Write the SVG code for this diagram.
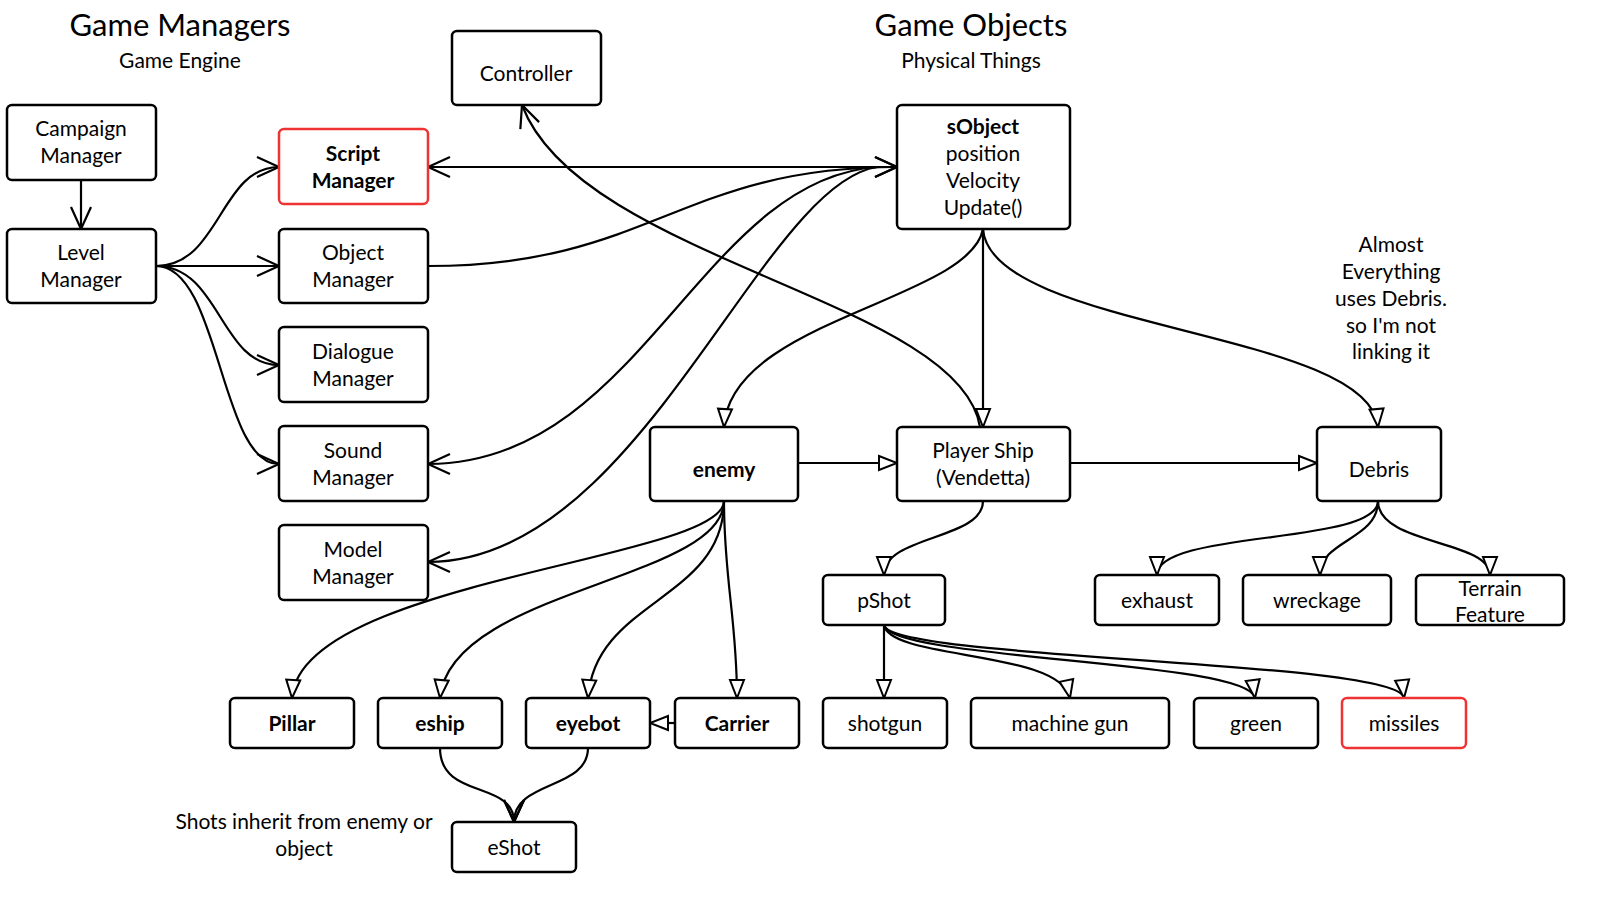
<svg xmlns="http://www.w3.org/2000/svg" width="1600" height="917" viewBox="0 0 1600 917">
<style>
.n{fill:#fff;stroke:#000;stroke-width:2.5}
.r{stroke:#e33}
text{font-family:Lato,"Liberation Sans",sans-serif;font-size:21px;text-anchor:middle;fill:#000}
.b{font-weight:bold}
.e path{fill:none;stroke:#000;stroke-width:2.2}
.o{marker-end:url(#open)}
.h{marker-end:url(#tri)}
</style>
<defs>
<marker id="open" viewBox="0 0 26 26" refX="24" refY="13" markerWidth="26" markerHeight="26" markerUnits="userSpaceOnUse" orient="auto-start-reverse"><path d="M2,3 L24,13 L2,23" fill="none" stroke="#000" stroke-width="2.2"/></marker>
<marker id="tri" viewBox="0 0 24 24" refX="22" refY="12" markerWidth="24" markerHeight="24" markerUnits="userSpaceOnUse" orient="auto"><path d="M4,5 L22,12 L4,19 Z" fill="#fff" stroke="#000" stroke-width="2"/></marker>
</defs>
<rect width="1600" height="917" fill="#fff"/>
<text x="180" y="36" style="font-size:31px">Game Managers</text>
<text x="180" y="68">Game Engine</text>
<text x="971" y="36" style="font-size:31px">Game Objects</text>
<text x="971" y="68">Physical Things</text>
<text x="1391" y="252">Almost</text>
<text x="1391" y="279">Everything</text>
<text x="1391" y="306">uses Debris.</text>
<text x="1391" y="333">so I'm not</text>
<text x="1391" y="359">linking it</text>
<text x="304" y="829">Shots inherit from enemy or</text>
<text x="304" y="856">object</text>
<g class="e">
<path class="o" d="M81,180 L81,229"/>
<path class="o" d="M156,266 C220,266 220,167 279,167"/>
<path class="o" d="M156,266 L279,266"/>
<path class="o" d="M156,266 C220,266 220,365 279,365"/>
<path class="o" d="M156,266 C220,266 220,464 279,464"/>
<path class="o" d="M897,167 L428,167" style="marker-start:url(#open)"/>
<path class="o" d="M428,266 C650,266 680,167 897,167"/>
<path class="o" d="M877,167 C700,180 640,464 428,464"/>
<path class="o" d="M877,167 C760,185 640,562 428,562"/>
<path class="o" d="M980,427 C960,300 580,260 522,105"/>
<path class="h" d="M983,229 C970,300 730,320 724,427"/>
<path class="h" d="M983,229 L983,427"/>
<path class="h" d="M983,229 C990,330 1370,330 1378,427"/>
<path class="h" d="M798,463 L897,463"/>
<path class="h" d="M1070,463 L1317,463"/>
<path class="h" d="M983,501 C983,540 884,535 884,575"/>
<path class="h" d="M1378,501 C1378,545 1157,530 1157,575"/>
<path class="h" d="M1378,501 C1378,540 1320,540 1320,575"/>
<path class="h" d="M1378,501 C1378,545 1490,540 1490,575"/>
<path class="h" d="M724,501 C724,560 300,580 292,698"/>
<path class="h" d="M724,501 C724,580 450,590 440,698"/>
<path class="h" d="M724,501 C724,600 595,600 588,698"/>
<path class="h" d="M724,501 C724,580 737,620 737,698"/>
<path class="h" d="M675,723 L650,723"/>
<path class="o" d="M440,748 C440,800 514,780 514,822"/>
<path class="o" d="M588,748 C588,790 514,780 514,822"/>
<path class="h" d="M884,625 L884,698"/>
<path class="h" d="M884,625 C890,660 1060,650 1070,698"/>
<path class="h" d="M884,625 C890,660 1250,660 1255,698"/>
<path class="h" d="M884,625 C890,660 1400,660 1404,698"/>
</g>
<g id="campaign"><rect class="n" x="7" y="105" width="149" height="75" rx="5"/><text x="81" y="136">Campaign</text><text x="81" y="163">Manager</text></g>
<g id="level"><rect class="n" x="7" y="229" width="149" height="74" rx="5"/><text x="81" y="260">Level</text><text x="81" y="287">Manager</text></g>
<g id="script"><rect class="n r" x="279" y="129" width="149" height="75" rx="5"/><text class="b" x="353" y="161">Script</text><text class="b" x="353" y="188">Manager</text></g>
<g id="object"><rect class="n" x="279" y="229" width="149" height="74" rx="5"/><text x="353" y="260">Object</text><text x="353" y="287">Manager</text></g>
<g id="dialogue"><rect class="n" x="279" y="327" width="149" height="75" rx="5"/><text x="353" y="359">Dialogue</text><text x="353" y="386">Manager</text></g>
<g id="sound"><rect class="n" x="279" y="426" width="149" height="75" rx="5"/><text x="353" y="458">Sound</text><text x="353" y="485">Manager</text></g>
<g id="model"><rect class="n" x="279" y="525" width="149" height="75" rx="5"/><text x="353" y="557">Model</text><text x="353" y="584">Manager</text></g>
<g id="controller"><rect class="n" x="452" y="31" width="149" height="74" rx="5"/><text x="526" y="81">Controller</text></g>
<g id="sobject"><rect class="n" x="897" y="105" width="173" height="124" rx="5"/><text class="b" x="983" y="134">sObject</text><text x="983" y="161">position</text><text x="983" y="188">Velocity</text><text x="983" y="215">Update()</text></g>
<g id="enemy"><rect class="n" x="650" y="427" width="148" height="74" rx="5"/><text class="b" x="724" y="477">enemy</text></g>
<g id="player"><rect class="n" x="897" y="427" width="173" height="74" rx="5"/><text x="983" y="458">Player Ship</text><text x="983" y="485">(Vendetta)</text></g>
<g id="debris"><rect class="n" x="1317" y="427" width="124" height="74" rx="5"/><text x="1379" y="477">Debris</text></g>
<g id="pshot"><rect class="n" x="823" y="575" width="122" height="50" rx="5"/><text x="884" y="608">pShot</text></g>
<g id="exhaust"><rect class="n" x="1095" y="575" width="124" height="50" rx="5"/><text x="1157" y="608">exhaust</text></g>
<g id="wreckage"><rect class="n" x="1243" y="575" width="148" height="50" rx="5"/><text x="1317" y="608">wreckage</text></g>
<g id="terrain"><rect class="n" x="1416" y="575" width="148" height="50" rx="5"/><text x="1490" y="596">Terrain</text><text x="1490" y="622">Feature</text></g>
<g id="pillar"><rect class="n" x="230" y="698" width="124" height="50" rx="5"/><text class="b" x="292" y="731">Pillar</text></g>
<g id="eship"><rect class="n" x="378" y="698" width="124" height="50" rx="5"/><text class="b" x="440" y="731">eship</text></g>
<g id="eyebot"><rect class="n" x="526" y="698" width="124" height="50" rx="5"/><text class="b" x="588" y="731">eyebot</text></g>
<g id="carrier"><rect class="n" x="675" y="698" width="124" height="50" rx="5"/><text class="b" x="737" y="731">Carrier</text></g>
<g id="shotgun"><rect class="n" x="823" y="698" width="124" height="50" rx="5"/><text x="885" y="731">shotgun</text></g>
<g id="machinegun"><rect class="n" x="971" y="698" width="198" height="50" rx="5"/><text x="1070" y="731">machine gun</text></g>
<g id="green"><rect class="n" x="1194" y="698" width="124" height="50" rx="5"/><text x="1256" y="731">green</text></g>
<g id="missiles"><rect class="n r" x="1342" y="698" width="124" height="50" rx="5"/><text x="1404" y="731">missiles</text></g>
<g id="eshot"><rect class="n" x="452" y="822" width="124" height="50" rx="5"/><text x="514" y="855">eShot</text></g>
</svg>
